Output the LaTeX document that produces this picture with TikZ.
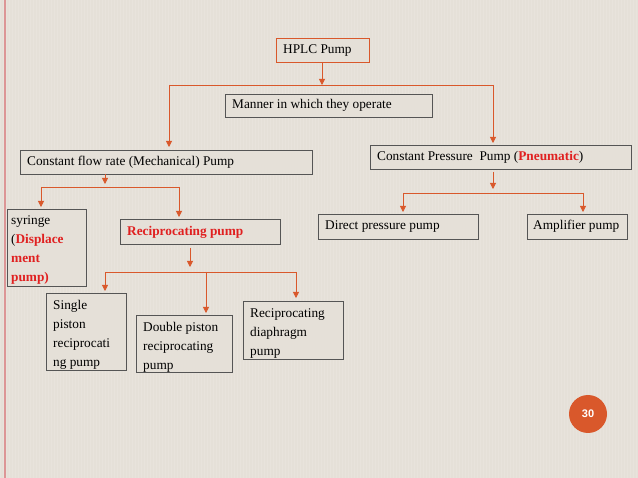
\documentclass[tikz,border=0pt]{standalone}
\usepackage{fontspec}
\setmainfont{Liberation Serif}
\newfontfamily\numfont{Liberation Sans}
\usetikzlibrary{arrows.meta}
\definecolor{bg}{HTML}{E5E0D8}
\definecolor{org}{HTML}{D9582B}
\definecolor{redt}{HTML}{E02020}
\definecolor{bd}{HTML}{555555}
\tikzset{
  bx/.style={draw=bd,line width=0.9pt,fill=bg,inner sep=0pt},
  lbl/.style={anchor=north west,align=left,font=\fontsize{13.3}{19}\selectfont,inner sep=0pt},
  con/.style={draw=org,line width=0.8pt},
  arr/.style={con,-{Triangle[length=6pt,width=6pt]}}
}
\begin{document}
\begin{tikzpicture}[x=1pt,y=-1pt]
\fill[bg] (0,0) rectangle (638,478);
\useasboundingbox (0,0) rectangle (638,478);
\foreach \i in {0,3,...,638} \draw[white,opacity=0.12,line width=0.6pt] (\i,0)--(\i,478);
\draw[draw={rgb,255:red,220;green,150;blue,150},line width=1.6pt] (5,0)--(5,478);
% boxes
\draw[bx,draw=org] (276,38) rectangle (369,62); \node[lbl] (hplc) at (283,44) {HPLC Pump};
\draw[bx] (225,94) rectangle (432,117); \node[lbl] (man) at (232,99) {Manner in which they operate};
\draw[bx] (20,150) rectangle (312,174); \node[lbl] (cf) at (27,156) {Constant flow rate (Mechanical) Pump};
\draw[bx] (370,145) rectangle (631,169); \node[lbl] (cp) at (377,151) {Constant Pressure\ \ Pump (\textcolor{redt}{\textbf{Pneumatic}})};
\draw[bx] (7,209) rectangle (86,286); \node[lbl] (sy) at (11,215) {syringe\\(\textcolor{redt}{\textbf{Displace}}\\\textcolor{redt}{\textbf{ment}}\\\textcolor{redt}{\textbf{pump)}}};
\draw[bx] (120,219) rectangle (280,244); \node[lbl] (rp) at (127,226) {\textcolor{redt}{\textbf{Reciprocating pump}}};
\draw[bx] (318,214) rectangle (478,239); \node[lbl] (dp) at (325,220) {Direct pressure pump};
\draw[bx] (527,214) rectangle (627,239); \node[lbl] (ap) at (533,220) {Amplifier pump};
\draw[bx] (46,293) rectangle (126,370); \node[lbl] (sp) at (53,300) {Single\\piston\\reciprocati\\ng pump};
\draw[bx] (136,315) rectangle (232,372); \node[lbl] (dbl) at (143,322) {Double piston\\reciprocating\\pump};
\draw[bx] (243,301) rectangle (343,359); \node[lbl] (rd) at (250,308) {Reciprocating\\diaphragm\\pump};
% connectors
\coordinate (h1) at (322,62); \coordinate (h2) at (322,85);
\draw[arr] (h1)--(h2);
\draw[con] (169,85)--(493,85);
\draw[arr] (169,85)--(169,147);
\draw[arr] (493,85)--(493,143);
\draw[arr] (105,174)--(105,184);
\draw[con] (41,187)--(179,187);
\draw[arr] (41,187)--(41,207);
\draw[arr] (179,187)--(179,217);
\draw[arr] (190,248)--(190,267);
\draw[con] (105,272)--(296,272);
\draw[arr] (105,272)--(105,291);
\draw[arr] (206,272)--(206,313);
\draw[arr] (296,272)--(296,298);
\draw[arr] (493,172)--(493,189);
\draw[con] (403,193)--(583,193);
\draw[arr] (403,193)--(403,212);
\draw[arr] (583,193)--(583,212);
% page number
\node[circle,fill=org,minimum size=38pt,inner sep=0pt,text=white,font=\numfont\bfseries\fontsize{11}{13}\selectfont] (pg) at (588,414) {30};
\end{tikzpicture}
\end{document}
